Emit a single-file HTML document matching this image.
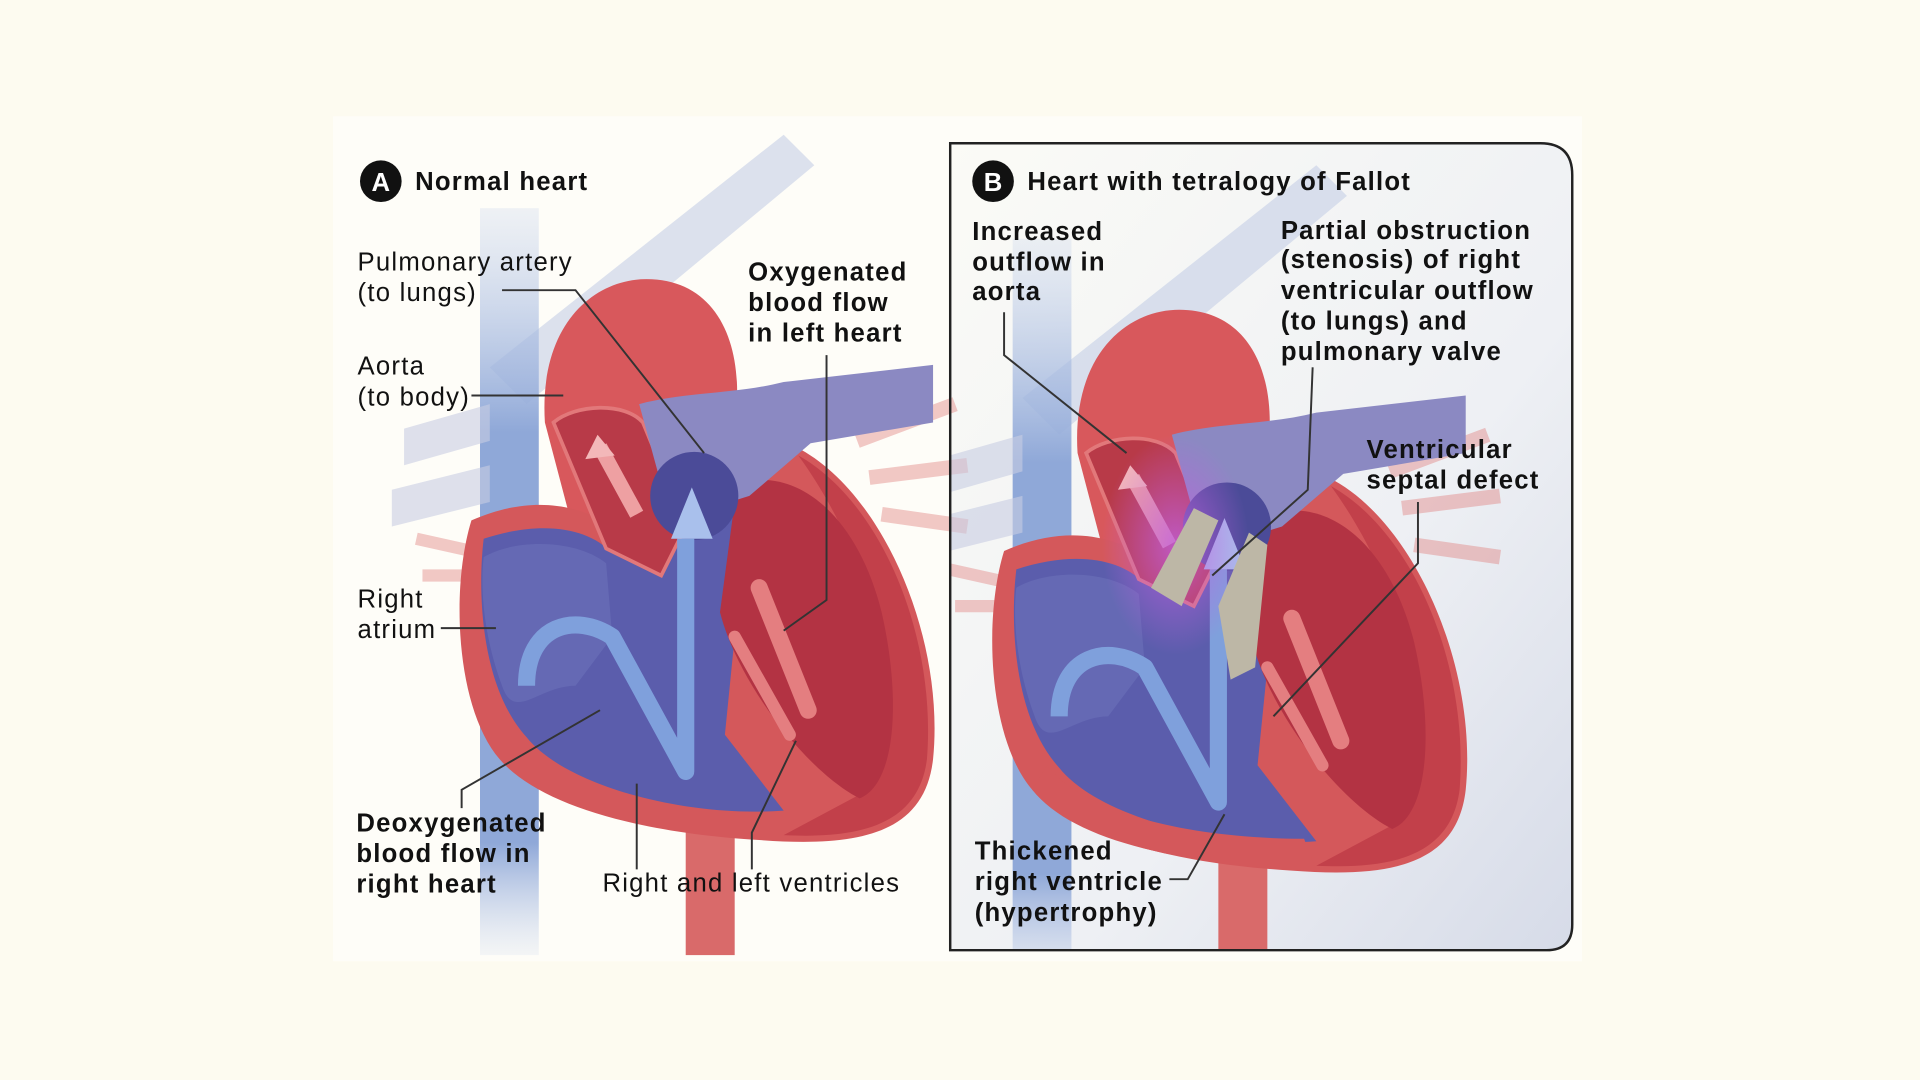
<!DOCTYPE html>
<html><head><meta charset="utf-8"><style>
html,body{margin:0;padding:0;background:#fdfbf0;}
svg{display:block}
text{font-family:"Liberation Sans",Arial,sans-serif;fill:#111;letter-spacing:1px;}
.b{font-weight:bold}
</style></head><body>
<svg width="1920" height="1080" viewBox="0 0 1568 882" xmlns="http://www.w3.org/2000/svg">
<defs>
<linearGradient id="pb" x1="0" y1="0" x2="1" y2="1"><stop offset="0" stop-color="#fbfbf6"/><stop offset="0.6" stop-color="#eef0f4"/><stop offset="1" stop-color="#d6dbe8"/></linearGradient>
<radialGradient id="glow" cx="0.5" cy="0.5" r="0.5"><stop offset="0" stop-color="#c060e0" stop-opacity="0.8"/><stop offset="1" stop-color="#c060e0" stop-opacity="0"/></radialGradient>
<linearGradient id="svc" x1="0" y1="0" x2="0" y2="1"><stop offset="0" stop-color="#c9d5ec" stop-opacity="0.3"/><stop offset="0.3" stop-color="#8fa8d8"/><stop offset="0.85" stop-color="#8fa8d8"/><stop offset="1" stop-color="#c9d5ec" stop-opacity="0.2"/></linearGradient>
<clipPath id="boxclip"><path d="M776,117 L1258,117 Q1284,117 1284,143 L1284,755 Q1284,776 1263,776 L776,776 Z"/></clipPath>
<g id="heart">
  <path d="M400,300 L640,110 L665,135 L430,330 Z" fill="#c4cfe6" opacity="0.6"/>
  <rect x="392" y="170" width="48" height="610" fill="url(#svc)"/>
  <path d="M330,350 L400,330 L400,360 L330,380 Z M320,400 L400,380 L400,410 L320,430Z" fill="#c8cde2" opacity="0.6"/>
  <path d="M700,360 L780,330 M710,390 L790,380 M720,420 L790,430" stroke="#e07a78" stroke-width="12" opacity="0.4"/>
  <path d="M340,440 L385,450 M345,470 L385,470" stroke="#e07a78" stroke-width="10" opacity="0.4"/>
  <rect x="560" y="670" width="40" height="110" fill="#d96a6a"/>
  <path d="M445,345 C440,265 485,228 528,228 C578,228 602,268 602,320 L602,395 L540,410 L470,440 Z" fill="#d8585c"/>
  <path d="M385,425 C430,405 470,410 500,430 L540,400 L650,365 C720,400 772,520 762,620 C755,682 700,692 620,686 C520,680 440,657 408,620 C372,578 368,480 385,425 Z" fill="#d4585b"/>
  <path d="M652,372 C720,410 765,520 757,620 C750,675 700,685 640,682 L700,650 C735,600 730,480 652,372Z" fill="#c2404a"/>
  <path d="M395,440 C440,425 480,430 500,452 L545,420 L600,402 L602,500 L592,600 L640,662 C560,668 462,642 430,602 C392,560 390,482 395,440 Z" fill="#5b5dac"/>
  <path d="M395,455 C420,440 470,440 495,460 L500,520 L470,560 C440,560 420,590 410,560 C395,520 392,480 395,455Z" fill="#6a6fb8" opacity="0.7"/>
  <path d="M452,345 C470,330 510,328 525,345 L560,430 L540,470 L495,448 Z" fill="#b83a48" stroke="#e2787a" stroke-width="3"/>
  <path d="M602,395 C650,380 700,420 720,500 C736,570 732,640 702,652 C662,632 604,562 588,500 Z" fill="#b33343"/>
  <path d="M620,480 L660,580" stroke="#e47e80" stroke-width="14" stroke-linecap="round"/>
  <path d="M600,520 L645,600" stroke="#e47e80" stroke-width="10" stroke-linecap="round"/>
  <path d="M522,330 C560,320 600,322 640,312 L762,298 L762,345 L662,362 L612,405 L548,425 Z" fill="#8b89c2"/>
  <circle cx="567" cy="405" r="36" fill="#4b4b98"/>
  <path d="M430,560 C430,510 470,500 500,520 L560,630 L560,440" fill="none" stroke="#7fa0dc" stroke-width="14" stroke-linejoin="round"/>
  <path d="M548,440 L565,398 L582,440 Z" fill="#a9c0ec"/>
  <path d="M520,420 L490,365" stroke="#eea0a2" stroke-width="12"/>
  <path d="M478,375 L488,355 L502,372 Z" fill="#f3b8b9"/>
</g>
</defs>

<rect width="1568" height="882" fill="#fdfbf0"/>
<rect x="272" y="95" width="1020" height="690" fill="#fefdf8"/>

<path d="M776,117 L1258,117 Q1284,117 1284,143 L1284,755 Q1284,776 1263,776 L776,776 Z" fill="url(#pb)"/>

<use href="#heart"/>
<g clip-path="url(#boxclip)">
<g transform="translate(435,25)">
  <use href="#heart"/>
  <path d="M408,620 C440,660 520,680 640,686 L630,660 C540,660 450,640 420,600Z" fill="#d4585b"/>
  <ellipse cx="525" cy="420" rx="60" ry="90" fill="url(#glow)"/>
  <path d="M505,455 L540,390 L560,400 L530,470 Z M560,470 L585,410 L600,420 L590,520 L570,530 Z" fill="#bdb7a6"/>
</g>
</g>
<path d="M776,117 L1258,117 Q1284,117 1284,143 L1284,755 Q1284,776 1263,776 L776,776 Z" fill="none" stroke="#222" stroke-width="2"/>

<circle cx="311" cy="148" r="17" fill="#111"/>
<text x="311" y="156" text-anchor="middle" class="b" style="fill:#fff;font-size:21px;letter-spacing:0">A</text>
<text x="339" y="155" class="b" style="font-size:21px">Normal heart</text>
<g style="font-size:21px">
<text x="292" y="221">Pulmonary artery</text><text x="292" y="246">(to lungs)</text>
<text x="292" y="306">Aorta</text><text x="292" y="331">(to body)</text>
<text x="292" y="496">Right</text><text x="292" y="521">atrium</text>
<text x="492" y="728">Right and left ventricles</text>
</g>
<g class="b" style="font-size:21px">
<text x="611" y="229" class="b">Oxygenated</text><text x="611" y="254" class="b">blood flow</text><text x="611" y="279" class="b">in left heart</text>
<text x="291" y="679" class="b">Deoxygenated</text><text x="291" y="704" class="b">blood flow in</text><text x="291" y="729" class="b">right heart</text>
</g>
<circle cx="811" cy="148" r="17" fill="#111"/>
<text x="811" y="156" text-anchor="middle" class="b" style="fill:#fff;font-size:21px;letter-spacing:0">B</text>
<text x="839" y="155" class="b" style="font-size:21px">Heart with tetralogy of Fallot</text>
<g style="font-size:21px">
<text x="794" y="196" class="b">Increased</text><text x="794" y="221" class="b">outflow in</text><text x="794" y="245" class="b">aorta</text>
<text x="1046" y="195" class="b">Partial obstruction</text><text x="1046" y="219" class="b">(stenosis) of right</text><text x="1046" y="244" class="b">ventricular outflow</text><text x="1046" y="269" class="b">(to lungs) and</text><text x="1046" y="294" class="b">pulmonary valve</text>
<text x="1116" y="374" class="b">Ventricular</text><text x="1116" y="399" class="b">septal defect</text>
<text x="796" y="702" class="b">Thickened</text><text x="796" y="727" class="b">right ventricle</text><text x="796" y="752" class="b">(hypertrophy)</text>
</g>
<g stroke="#333" stroke-width="1.6" fill="none">
<path d="M410,237 L470,237 L575,370"/>
<path d="M385,323 L460,323"/>
<path d="M675,290 L675,490 L640,515"/>
<path d="M360,513 L405,513"/>
<path d="M377,660 L377,645 L490,580"/>
<path d="M520,710 L520,640"/>
<path d="M614,710 L614,680 L650,605"/>
<path d="M820,255 L820,290 L920,370"/>
<path d="M1072,300 L1068,400 L990,470"/>
<path d="M1158,410 L1158,460 L1040,585"/>
<path d="M955,718 L970,718 L1000,665"/>
</g>
</svg>
</body></html>
